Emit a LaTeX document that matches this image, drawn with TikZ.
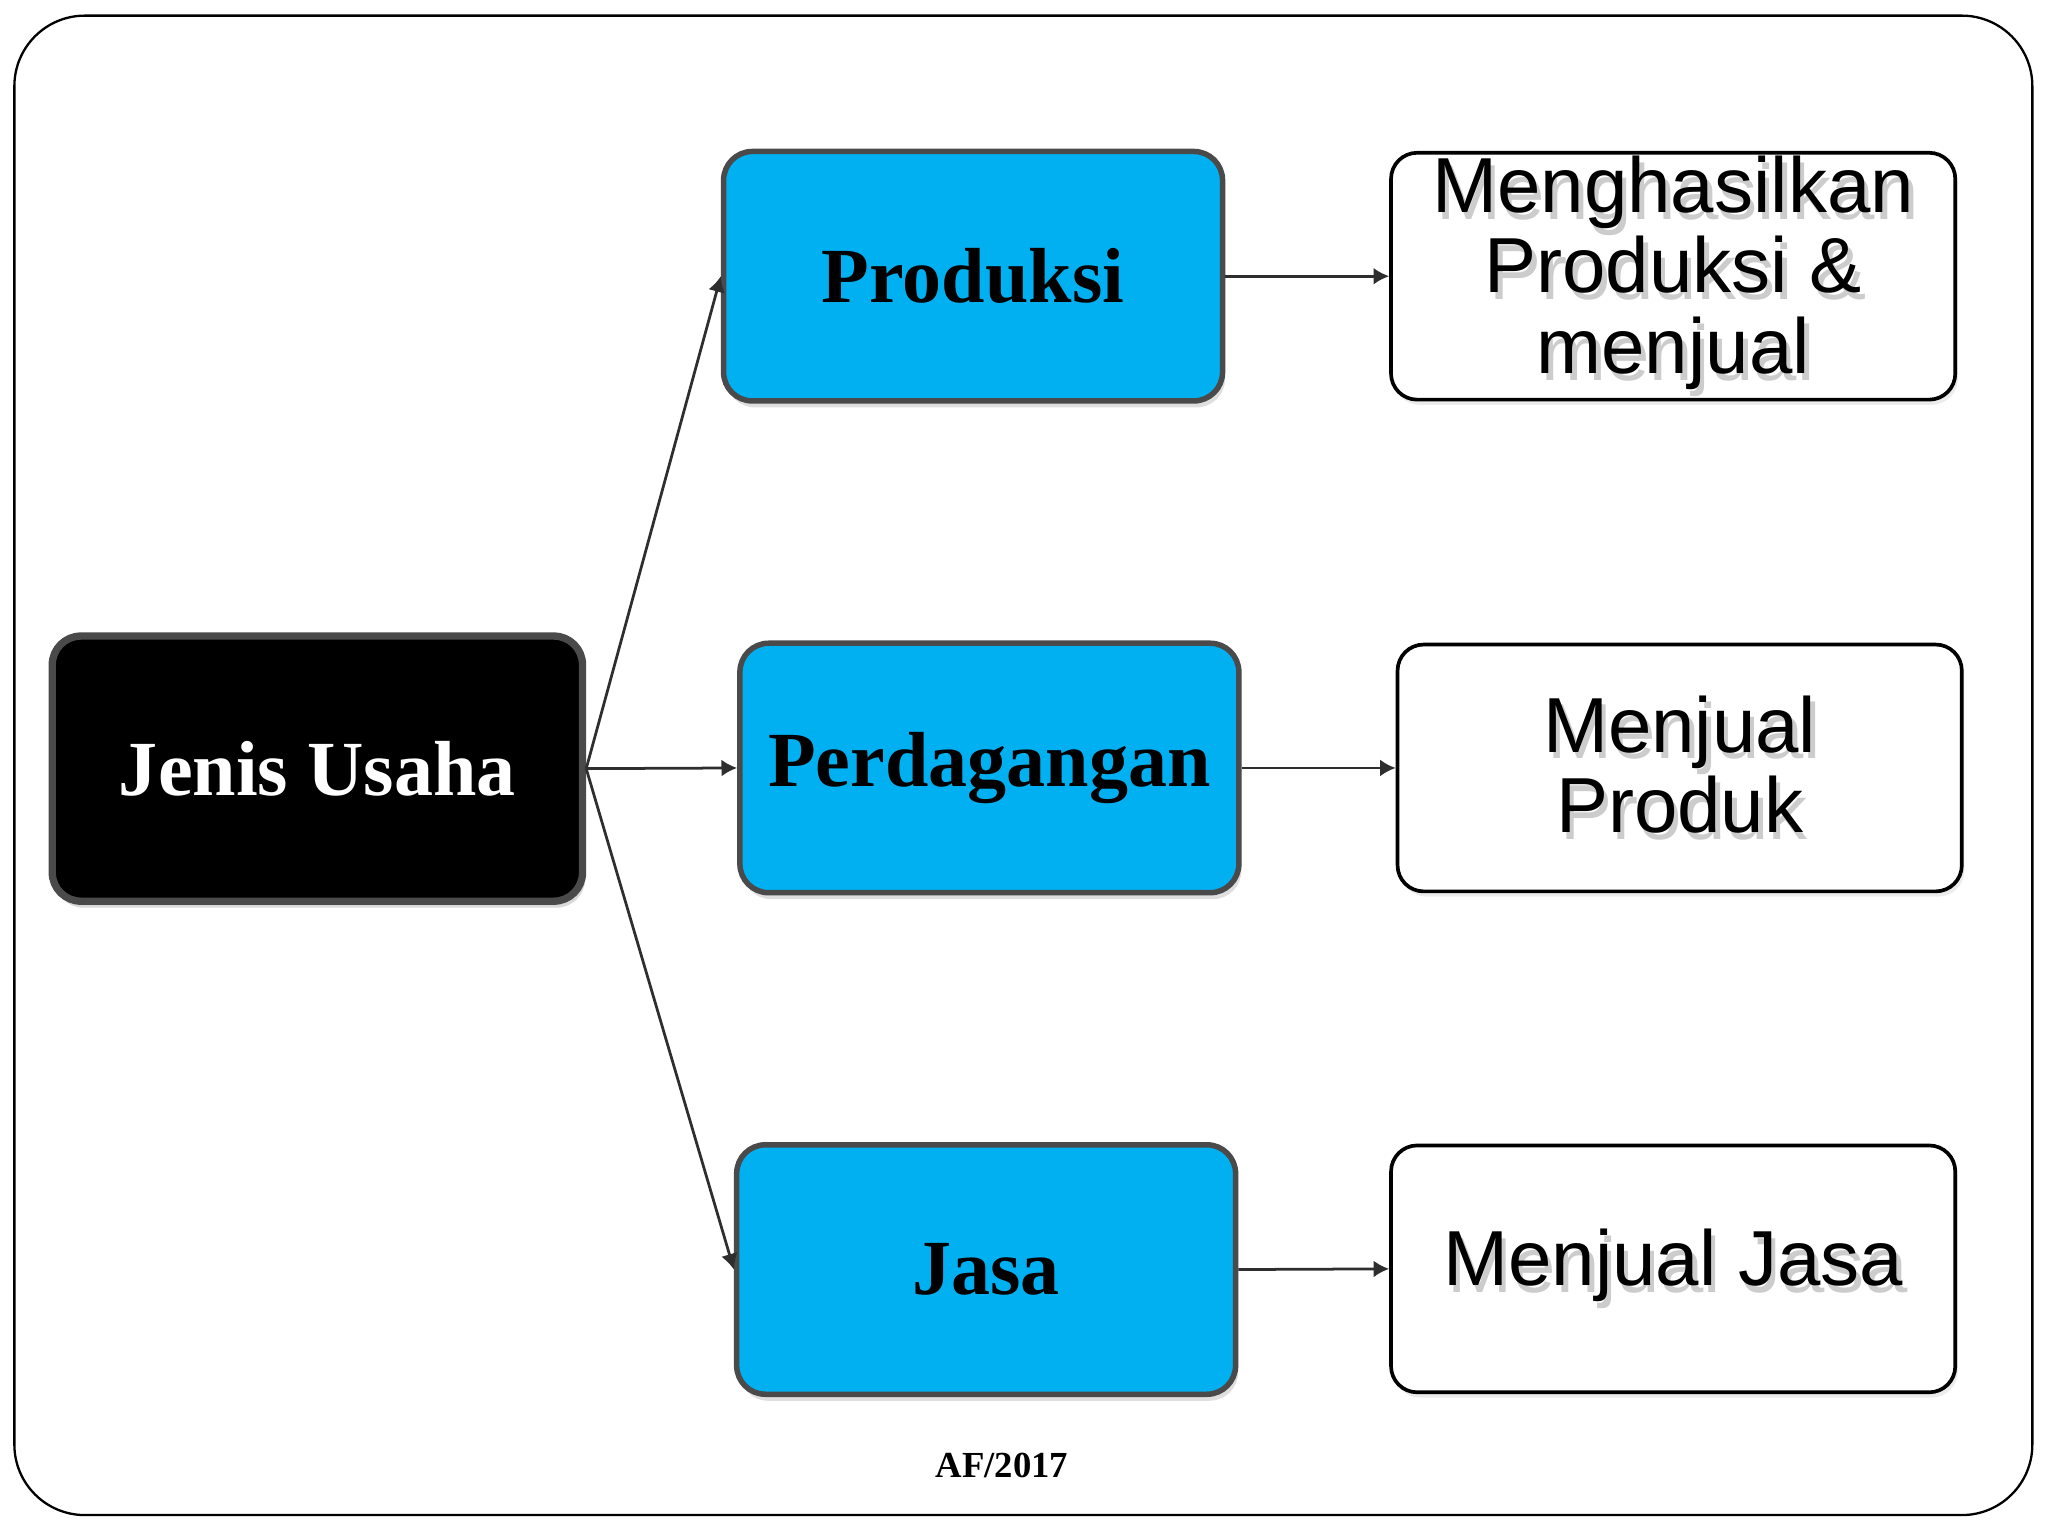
\documentclass[tikz,border=0pt]{standalone}
\usepackage{fontspec}
\setmainfont{Liberation Serif}
\newfontfamily\resultfont{Liberation Sans}
\usetikzlibrary{shadows,arrows.meta}
\definecolor{sectorblue}{HTML}{00B0F0}
\definecolor{rimgray}{HTML}{4A4A4A}
\definecolor{linkgray}{HTML}{2E2E2E}
\def\shadowed#1{\makebox[0pt][l]{\hspace{1pt}\raisebox{-1.5pt}{\color{black!20}#1}}#1}

\begin{document}
\begin{tikzpicture}[x=1cm,y=1cm,
  rootbox/.style={rounded corners=0.22cm,minimum width=4.06cm,minimum height=2.03cm,
    fill=black,draw=rimgray,line width=1.6pt,text=white,
    drop shadow={opacity=0.3,shadow xshift=0.02cm,shadow yshift=-0.05cm},
    font=\bfseries\fontsize{17}{20}\selectfont},
  sectorbox/.style={rounded corners=0.22cm,minimum width=3.82cm,minimum height=1.91cm,
    fill=sectorblue,draw=rimgray,line width=1.2pt,
    drop shadow={opacity=0.25,shadow xshift=0.02cm,shadow yshift=-0.05cm},
    font=\bfseries\fontsize{17}{20}\selectfont},
  resultbox/.style={rounded corners=0.2cm,minimum width=4.32cm,minimum height=1.89cm,
    inner sep=0pt,fill=white,draw=black,line width=0.8pt,align=center,
    drop shadow={opacity=0.15,shadow xshift=0.02cm,shadow yshift=-0.04cm},
    font=\resultfont\fontsize{17}{17.6}\selectfont},
  connector/.style={draw=linkgray,line width=0.6pt,-{Latex[length=1.2mm,width=1.3mm]}}]
  \useasboundingbox (0,0) rectangle (15.68,11.76);
  \draw[line width=0.5pt,rounded corners=0.54cm] (0.11,0.16) rectangle (15.56,11.64);

  \node[rootbox] (usaha) at (2.43,5.875) {Jenis Usaha};

  \node[sectorbox] (produksi) at (7.45,9.645) {Produksi};
  \node[sectorbox] (dagang) at (7.575,5.88) {Perdagangan};
  \node[sectorbox] (jasa) at (7.55,2.04) {Jasa};

  \node[resultbox] (hasil) at (12.81,9.645) {\shadowed{Menghasilkan}\\\shadowed{Produksi \&}\\\shadowed{menjual}};
  \node[resultbox] (jualproduk) at (12.86,5.88) {\shadowed{Menjual}\\\shadowed{Produk}};
  \node[resultbox] (jualjasa) at (12.81,2.045) {\shadowed{Menjual Jasa}};

  \foreach \sector/\result in {produksi/hasil,dagang/jualproduk,jasa/jualjasa} {
    \draw[connector] (usaha.east) -- (\sector.west);
    \draw[connector] (\sector.east) -- (\result.west);
  }

  \node[font=\bfseries\fontsize{8}{9}\selectfont] (tahun) at (7.67,0.54) {AF/2017};
\end{tikzpicture}
\end{document}
